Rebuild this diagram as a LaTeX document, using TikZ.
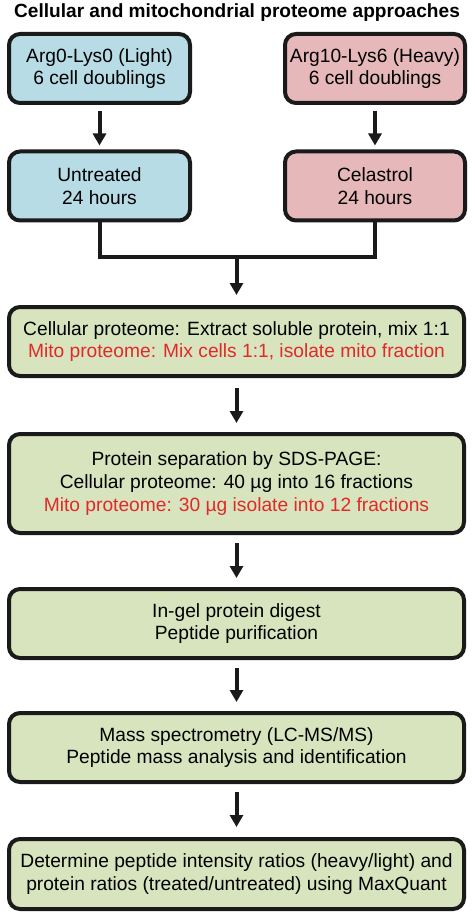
\documentclass[tikz,border=0pt]{standalone}
\usepackage{fontspec}
\setmainfont{Liberation Sans}
\usetikzlibrary{arrows.meta}
\definecolor{lblue}{HTML}{B7DCE6}
\definecolor{lpink}{HTML}{E6B8BA}
\definecolor{lgreen}{HTML}{D8E4BE}
\definecolor{myred}{HTML}{E02A2A}
\definecolor{edge}{HTML}{1A1A1A}
\tikzset{
  box/.style={draw=edge, line width=4pt, rounded corners=11pt, align=center,
    inner sep=0pt, font=\fontsize{19.2}{22.8}\selectfont},
  bluebox/.style={box, fill=lblue, minimum width=181pt, minimum height=69pt},
  pinkbox/.style={box, fill=lpink, minimum width=180pt, minimum height=69pt},
  greenbox/.style={box, fill=lgreen, minimum width=455pt, minimum height=69pt},
  arr/.style={draw=edge, line width=4pt, -{Triangle[width=13pt,length=12pt]}},
  conn/.style={draw=edge, line width=4pt},
}
\begin{document}
\begin{tikzpicture}[x=1pt,y=-1pt]
\useasboundingbox (0,0) rectangle (474,917);
\node[font=\fontsize{19.1}{22}\selectfont\bfseries] (title) at (237,12.5) {Cellular and mitochondrial proteome approaches};
\node[bluebox] (ll) at (99.5,68.5) {Arg0-Lys0 (Light)\\6 cell doublings};
\node[pinkbox] (hh) at (375,68.5) {Arg10-Lys6 (Heavy)\\6 cell doublings};
\node[bluebox] (un) at (99.5,186) {Untreated\\24 hours};
\node[pinkbox] (ce) at (375,186) {Celastrol\\24 hours};
\node[greenbox] (g1) at (236.5,341.5) {Cellular proteome: Extract soluble protein, mix 1:1\\\textcolor{myred}{Mito proteome: Mix cells 1:1, isolate mito fraction}};
\node[greenbox, minimum height=99pt] (g2) at (236.5,483.5) {Protein separation by SDS-PAGE:\\Cellular proteome: 40 µg into 16 fractions\\\textcolor{myred}{Mito proteome: 30 µg isolate into 12 fractions}};
\node[greenbox] (g3) at (236.5,623.5) {In-gel protein digest\\Peptide purification};
\node[greenbox] (g4) at (236.5,747.5) {Mass spectrometry (LC-MS/MS)\\Peptide mass analysis and identification};
\node[greenbox, minimum height=70pt] (g5) at (236.5,874) {Determine peptide intensity ratios (heavy/light) and\\protein ratios (treated/untreated) using MaxQuant};
\coordinate (jl) at (99.5,257);
\coordinate (jr) at (375,257);
\coordinate (jm) at (236.5,257);
\draw[arr, shorten <=6pt, shorten >=4pt] (ll) -- (un);
\draw[arr, shorten <=6pt, shorten >=4pt] (hh) -- (ce);
\draw[conn, line join=miter] (un.south) -- (jl) -- (jr) -- (ce.south);
\draw[arr, shorten >=10pt] (jm) -- (g1.north);
\draw[arr, shorten <=10pt, shorten >=9pt] (g1) -- (g2);
\draw[arr, shorten <=8pt, shorten >=9pt] (g2) -- (g3);
\draw[arr, shorten <=8pt, shorten >=9pt] (g3) -- (g4);
\draw[arr, shorten <=8pt, shorten >=10pt] (g4) -- (g5);
\end{tikzpicture}
\end{document}
